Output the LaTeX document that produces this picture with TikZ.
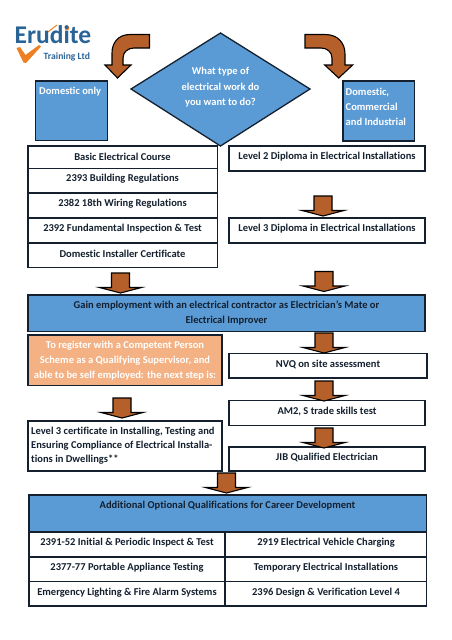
\documentclass[tikz,border=0pt]{standalone}
\usepackage{fontspec}
\setmainfont[Ligatures=NoCommon]{Carlito}
\definecolor{bluefill}{HTML}{5B9BD5}
\definecolor{peach}{HTML}{F4B183}
\definecolor{brownfill}{HTML}{B5602A}
\definecolor{inkdark}{HTML}{14202E}
\definecolor{logoblue}{HTML}{2A6496}
\definecolor{logoorange}{HTML}{EE7F22}
\tikzset{
  plainbox/.style={draw=inkdark,line width=1.3pt,fill=white,rectangle,inner sep=0pt,outer sep=0pt},
  bluebox/.style={plainbox,fill=bluefill},
  peachbox/.style={plainbox,fill=peach},
  lbl/.style={font=\fontsize{10.5}{15.3}\selectfont\bfseries,text=inkdark,inner sep=0pt,align=center,yshift=-0.7pt},
  whitelbl/.style={lbl,text=white},
  blockarrow/.style={draw=black,line width=1.1pt,fill=brownfill,line join=miter},
}
% style, name, x0, y0, x1, y1
\newcommand{\bx}[6]{\node[#1,minimum width={(#5)-(#3)},minimum height={(#6)-(#4)},anchor=north west] (#2) at (#3,#4) {};}
% centre x, top y : straight block arrow
\newcommand{\blockdown}[2]{\draw[blockarrow] (#1-9,#2) -- (#1+9,#2) -- (#1+9,#2+14.5) -- (#1+21,#2+14.5) -- (#1,#2+20) -- (#1-21,#2+14.5) -- (#1-9,#2+14.5) -- cycle;}
\begin{document}
\begin{tikzpicture}[x=1pt,y=-1pt]
\useasboundingbox (0,0) rectangle (452,640);

% logo
\fill[logoorange] (16.5,48) -- (20,47) -- (25.5,55) -- (39,45) -- (41,46.5) -- (26,63) -- (23.5,62.5) -- cycle;
\draw[logoorange,line width=1pt] (48,32) -- (57,25);
\fill[logoorange] (67,28) circle (2.3);
\node[anchor=base west,inner sep=0pt,text=logoblue,font=\fontsize{25.5}{25.5}\selectfont\bfseries] (logoname) at (14.5,43) {Erudite};
\node[anchor=base west,inner sep=0pt,text=logoblue,font=\fontsize{9.6}{9.6}\selectfont\bfseries] (logosub) at (43.5,59) {Training Ltd};

% curved arrows
\draw[blockarrow] (149.5,34.5) -- (130,34.5) .. controls (118,34.5) and (112,43) .. (112,53) -- (112,65) -- (105,65) -- (117.5,78) -- (131,65) -- (123,65) -- (123,58) .. controls (123,52) and (128,48) .. (134,48) -- (149.5,48) -- cycle;
\draw[blockarrow] (305,34.5) -- (325,34.5) .. controls (338,34.5) and (345,43) .. (345,54) -- (345,65) -- (352.7,65) -- (338.7,78) -- (324.7,65) -- (332,65) -- (332,58) .. controls (332,52) and (327,48) .. (321,48) -- (305,48) -- cycle;

% question
\draw[plainbox,fill=bluefill] (131,89) coordinate (qw) -- (220.5,33) coordinate (qn) -- (310,89) coordinate (qe) -- (220.5,146) coordinate (qs) -- cycle;
\node[whitelbl] (qt) at (220.5,86.5) {What type of\\electrical work do\\you want to do?};

\bx{bluebox}{dom}{35.5}{81}{107.5}{140.5}
\node[whitelbl,anchor=base west] (domt) at (39,94) {Domestic only};
\bx{bluebox}{com}{343}{81}{414.5}{141}
\node[whitelbl,align=left,anchor=north west] (comt) at (345.5,87) {Domestic,\\Commercial\\and Industrial};

% left column
\bx{plainbox}{a1}{28}{146}{217.5}{168.5}
\bx{plainbox}{a2}{28}{168.5}{217.5}{193}
\bx{plainbox}{a3}{28}{193}{217.5}{218}
\bx{plainbox}{a4}{28}{218}{217.5}{243}
\bx{plainbox}{a5}{28}{243}{217.5}{267.5}
\node[lbl] (a1t) at (122.5,156) {Basic Electrical Course};
\node[lbl] (a2t) at (122.5,178) {2393 Building Regulations};
\node[lbl] (a3t) at (122.5,203) {2382 18th Wiring Regulations};
\node[lbl] (a4t) at (122.5,228) {2392 Fundamental Inspection \& Test};
\node[lbl] (a5t) at (122.5,253) {Domestic Installer Certificate};

% right column
\bx{plainbox}{b1}{229}{146}{425}{171}
\bx{plainbox}{b2}{229}{218}{425}{243}
\node[lbl] (b1t) at (327,156) {Level 2 Diploma in Electrical Installations};
\node[lbl] (b2t) at (327,228) {Level 3 Diploma in Electrical Installations};

% employment
\bx{bluebox}{gain}{28}{295}{425}{331.5}
\node[lbl] (gaint) at (226.5,312) {Gain employment with an electrical contractor as Electrician’s Mate or\\Electrical Improver};

% lower left
\bx{peachbox}{reg}{28}{335}{222}{385.5}
\node[whitelbl] (regt) at (125,360) {To register with a Competent Person\\Scheme as a Qualifying Supervisor, and\\able to be self employed: the next step is:};
\bx{plainbox}{cert}{28}{421}{222}{471}
\node[lbl,align=left,anchor=north west,font=\fontsize{10.5}{14}\selectfont\bfseries] (certt) at (31,426.3) {Level 3 certificate in Installing, Testing and\\Ensuring Compliance of Electrical Installa-\\tions in Dwellings**};

% lower right
\bx{plainbox}{nvq}{229}{353.5}{427}{378}
\bx{plainbox}{am}{229}{400.5}{425}{425.5}
\bx{plainbox}{jib}{229}{447}{425}{471}
\node[lbl] (nvqt) at (328,363.5) {NVQ on site assessment};
\node[lbl] (amt) at (327,410.5) {AM2, S trade skills test};
\node[lbl] (jibt) at (327,457) {JIB Qualified Electrician};

% additional qualifications
\bx{bluebox}{add}{29}{495}{426.5}{532}
\node[lbl] (addt) at (227.5,505) {Additional Optional Qualifications for Career Development};
\bx{plainbox}{c1}{29}{532}{225}{557}
\bx{plainbox}{c2}{29}{557}{225}{581.5}
\bx{plainbox}{c3}{29}{581.5}{225}{606}
\bx{plainbox}{d1}{225}{532}{426.5}{557}
\bx{plainbox}{d2}{225}{557}{426.5}{581.5}
\bx{plainbox}{d3}{225}{581.5}{426.5}{606}
\node[lbl] (c1t) at (127,542) {2391-52 Initial \& Periodic Inspect \& Test};
\node[lbl] (c2t) at (127,567) {2377-77 Portable Appliance Testing};
\node[lbl] (c3t) at (127,592) {Emergency Lighting \& Fire Alarm Systems};
\node[lbl] (d1t) at (326,542) {2919 Electrical Vehicle Charging};
\node[lbl] (d2t) at (326,567) {Temporary Electrical Installations};
\node[lbl] (d3t) at (326,592) {2396 Design \& Verification Level 4};

% block arrows
\blockdown{323}{196}
\blockdown{120.5}{273}
\blockdown{324}{271.5}
\blockdown{324}{333}
\blockdown{122}{398}
\blockdown{324}{381}
\blockdown{324}{428}
\blockdown{226.5}{473}
\end{tikzpicture}
\end{document}
